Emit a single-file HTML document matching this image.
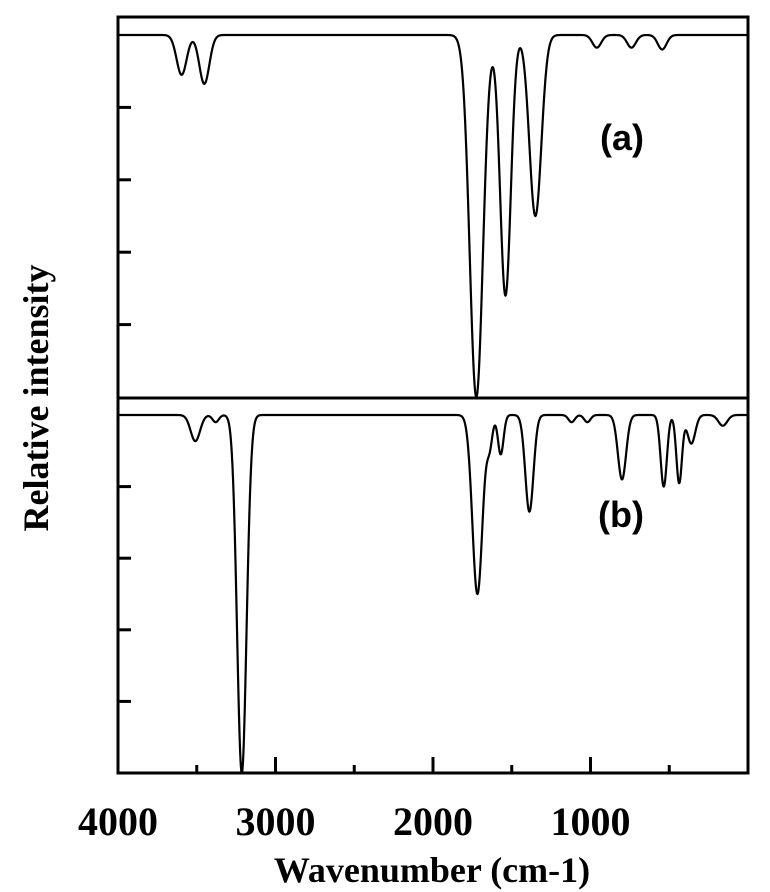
<!DOCTYPE html>
<html><head><meta charset="utf-8"><style>
html,body{margin:0;padding:0;background:#fff;}
svg{display:block;}
</style></head><body>
<svg width="770" height="892" viewBox="0 0 770 892">
<g id="frame"></g>
<g id="series"></g>
<g id="ticks"></g>
<g id="xlabels" font-family="'Liberation Serif', serif" font-weight="bold" font-size="40" fill="#000" text-anchor="middle"></g>
<text x="432" y="882" font-family="'Liberation Serif', serif" font-weight="bold" font-size="36" text-anchor="middle">Wavenumber (cm-1)</text>
<text transform="translate(48,398) rotate(-90)" font-family="'Liberation Serif', serif" font-weight="bold" font-size="36" text-anchor="middle">Relative intensity</text>
<text x="622" y="150" font-family="'Liberation Sans', sans-serif" font-weight="bold" font-size="36" text-anchor="middle">(a)</text>
<text x="621" y="527" font-family="'Liberation Sans', sans-serif" font-weight="bold" font-size="36" text-anchor="middle">(b)</text>
</svg>
<script>
// x-axis ticks
const xTickValues = [3000, 2000, 1000];
const xTickLabels = ["4000", "3000", "2000", "1000"];
const xTickLabelValues = [4000, 3000, 2000, 1000];
const xMinorTicks = [3500, 2500, 1500, 500];
// spectrum (a): absorption bands [centre cm-1], depths (fraction), widths (sigma cm-1)
const bandsA = [3596, 3452, 1725, 1540, 1350, 960, 740, 545];
const depthsA = [0.11, 0.135, 1.0, 0.72, 0.50, 0.035, 0.035, 0.04];
const widthsA = [32, 32, 42, 34, 38, 28, 28, 28];
// spectrum (b)
const bandsB = [3509, 3380, 3214, 1718, 1640, 1570, 1388, 1120, 1020, 800, 535, 437, 360, 160];
const depthsB = [0.073, 0.02, 1.0, 0.50, 0.08, 0.11, 0.27, 0.02, 0.02, 0.18, 0.20, 0.19, 0.08, 0.03];
const widthsB = [30, 20, 30, 32, 18, 18, 26, 20, 20, 26, 20, 18, 25, 28];

const NS = "http://www.w3.org/2000/svg";
const X0 = 118, X1 = 748;
const xScale = w => X0 + (4000 - w) / 4000 * (X1 - X0);
const panelA = {top: 35, zero: 397};
const panelB = {top: 415, zero: 773};
const yScale = (p, t) => p.zero - t * (p.zero - p.top);

function mk(tag, attrs) {
  const e = document.createElementNS(NS, tag);
  for (const k in attrs) e.setAttribute(k, attrs[k]);
  return e;
}
const frame = document.getElementById('frame');
const r = mk('rect', {x: X0, y: 17, width: X1 - X0, height: 756, fill: 'none', stroke: '#000', 'stroke-width': 3});


frame.appendChild(r);
const div = mk('line', {x1: X0, x2: X1, y1: 398, y2: 398, stroke: '#000', 'stroke-width': 3});


frame.appendChild(div);

function trans(x, bands, depths, widths) {
  let a = 0;
  for (let i = 0; i < bands.length; i++) {
    const d = (x - bands[i]) / widths[i];
    a += depths[i] * Math.exp(-0.5 * d * d);
  }
  return Math.max(0, 1 - a);
}
function drawSpectrum(p, bands, depths, widths, name) {
  let d = '';
  for (let w = 4000; w >= 0; w -= 2) {
    const t = trans(w, bands, depths, widths);
    d += (w === 4000 ? 'M' : 'L') + xScale(w).toFixed(2) + ',' + yScale(p, t).toFixed(2);
  }
  const path = mk('path', {d: d, fill: 'none', stroke: '#000', 'stroke-width': 2.2, 'stroke-linejoin': 'round'});
  
  
  document.getElementById('series').appendChild(path);
}
drawSpectrum(panelA, bandsA, depthsA, widthsA, 'spectrum-a-line');
drawSpectrum(panelB, bandsB, depthsB, widthsB, 'spectrum-b-line');

const ticks = document.getElementById('ticks');
xTickValues.forEach(v => {
  const l = mk('line', {x1: xScale(v), x2: xScale(v), y1: 773, y2: 757, stroke: '#000', 'stroke-width': 3});
  
  
  ticks.appendChild(l);
});
xMinorTicks.forEach(v => {
  const l = mk('line', {x1: xScale(v), x2: xScale(v), y1: 773, y2: 765, stroke: '#000', 'stroke-width': 3});
  
  
  ticks.appendChild(l);
});
[0.2, 0.4, 0.6, 0.8].forEach(f => {
  [panelA, panelB].forEach(p => {
    const y = yScale(p, f);
    const l = mk('line', {x1: X0, x2: X0 + 13, y1: y, y2: y, stroke: '#000', 'stroke-width': 3});
    
    
    ticks.appendChild(l);
  });
});
const xl = document.getElementById('xlabels');
xTickLabels.forEach((s, i) => {
  const t = mk('text', {x: xScale(xTickLabelValues[i]), y: 835});
  t.textContent = s;
  
  
  xl.appendChild(t);
});
</script>
</body></html>
